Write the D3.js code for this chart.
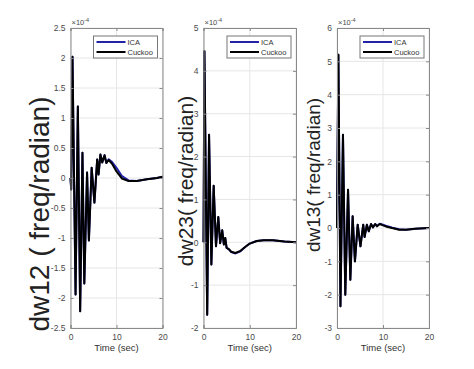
<!DOCTYPE html>
<html><head><meta charset="utf-8">
<script src="https://cdn.jsdelivr.net/npm/d3@7/dist/d3.min.js"></script>
<style>body{margin:0;background:#fff;}svg{display:block;font-family:"Liberation Sans",Arial,sans-serif;}</style>
</head><body>
<svg id="c" width="474" height="369"></svg>
<script>
// ---- data (values in units of 1e-4) ----
const seriesNames = ["ICA", "Cuckoo"];
const xTicks = [0, 10, 20];
const xLabel = "Time (sec)";

const time1 = [0, 0.15, 0.43, 1.1, 1.6, 2.1, 2.6, 3.0, 3.6, 4.0, 4.6, 5.2, 5.8, 6.1, 6.5, 6.9, 7.4, 7.8, 8.3, 9, 10, 11.2, 12.6, 14.4, 16.6, 18.8, 20];
const cuckoo1 = [0, -0.19, 2.02, -1.94, 1.19, -2.22, 0.42, -1.76, 0.09, -1.04, 0.17, -0.41, 0.31, 0.06, 0.39, 0.26, 0.38, 0.25, 0.3, 0.24, 0.11, -0.01, -0.05, -0.05, -0.02, 0.0, 0.02];
const ica1 = [0, -0.19, 2.02, -1.94, 1.19, -2.22, 0.42, -1.76, 0.09, -1.04, 0.17, -0.41, 0.31, 0.06, 0.39, 0.26, 0.38, 0.25, 0.31, 0.27, 0.17, 0.03, -0.04, -0.05, -0.02, 0.0, 0.02];
const yTicks1 = [-2.5, -2, -1.5, -1, -0.5, 0, 0.5, 1, 1.5, 2, 2.5];
const yLabel1 = "dw12 ( freq/radian)";

const time2 = [0, 0.2, 0.8, 1.2, 1.7, 2.2, 2.7, 3.2, 3.6, 4.05, 4.4, 4.7, 5.0, 5.5, 6.0, 6.9, 8, 9, 10, 11.5, 13, 15, 17.5, 20];
const cuckoo2 = [0, 4.46, -1.69, 2.51, -0.52, 1.32, -0.09, 0.59, -0.02, 0.28, -0.05, 0.1, -0.13, -0.16, -0.22, -0.25, -0.2, -0.11, -0.03, 0.03, 0.05, 0.05, 0.02, 0.0];
const ica2 = [0, 4.46, -1.69, 2.51, -0.52, 1.32, -0.09, 0.59, -0.02, 0.28, -0.05, 0.1, -0.13, -0.17, -0.23, -0.26, -0.21, -0.11, -0.03, 0.03, 0.05, 0.05, 0.02, 0.0];
const yTicks2 = [-2, -1, 0, 1, 2, 3, 4, 5];
const yLabel2 = "dw23( freq/radian)";

const time3 = [0, 0.3, 0.75, 1.3, 1.8, 2.4, 2.9, 3.4, 3.9, 4.5, 5.1, 5.7, 6.0, 6.5, 6.9, 7.4, 7.8, 8.3, 8.7, 9.3, 10, 11, 12, 13.5, 15, 17, 20];
const cuckoo3 = [0, 5.2, -2.35, 2.8, -2.0, 1.15, -1.55, 0.35, -1.0, 0.1, -0.55, 0.1, -0.27, 0.1, -0.1, 0.12, 0.02, 0.12, 0.05, 0.12, 0.08, 0.03, 0.0, -0.05, -0.05, -0.02, 0.0];
const ica3 = [0, 5.2, -2.35, 2.8, -2.0, 1.15, -1.55, 0.35, -1.0, 0.1, -0.55, 0.1, -0.27, 0.1, -0.1, 0.12, 0.02, 0.12, 0.06, 0.13, 0.1, 0.05, 0.01, -0.04, -0.05, -0.02, 0.0];
const yTicks3 = [-3, -2, -1, 0, 1, 2, 3, 4, 5, 6];
const yLabel3 = "dw13( freq/radian)";

// ---- layout ----
const panels = [
  {time: time1, ica: ica1, cuckoo: cuckoo1, yTicks: yTicks1, yLabel: yLabel1,
   left: 70.5, right: 162.5, top: 28, bottom: 328, labX: 48.5, labY: 214, labSize: 28},
  {time: time2, ica: ica2, cuckoo: cuckoo2, yTicks: yTicks2, yLabel: yLabel2,
   left: 203.5, right: 296, top: 28, bottom: 328, labX: 193, labY: 181, labSize: 21},
  {time: time3, ica: ica3, cuckoo: cuckoo3, yTicks: yTicks3, yLabel: yLabel3,
   left: 337, right: 429, top: 28, bottom: 328, labX: 320, labY: 175, labSize: 19}
];

const svg = d3.select("#c");
const colors = {ICA: "#2323a8", Cuckoo: "#000000"};
const axisColor = "#8a8a8a";
const textColor = "#4a4a4a";

panels.forEach(p => {
  const x = d3.scaleLinear().domain([0, 20]).range([p.left, p.right]);
  const yd = d3.extent(p.yTicks);
  const y = d3.scaleLinear().domain(yd).range([p.bottom, p.top]);
  const g = svg.append("g");

  // grid
  g.selectAll(".gy").data(p.yTicks).join("line")
    .attr("x1", p.left).attr("x2", p.right)
    .attr("y1", d => y(d)).attr("y2", d => y(d))
    .attr("stroke", "#e6e6e6").attr("stroke-width", 1);
  g.selectAll(".gx").data(xTicks).join("line")
    .attr("y1", p.top).attr("y2", p.bottom)
    .attr("x1", d => x(d)).attr("x2", d => x(d))
    .attr("stroke", "#e6e6e6").attr("stroke-width", 1);

  // lines
  const line = d3.line().x((d, i) => x(p.time[i])).y(d => y(d));
  g.append("path").datum(p.ica).attr("d", line)
    .attr("fill", "none").attr("stroke", colors.ICA).attr("stroke-width", 2).attr("stroke-linejoin", "round");
  g.append("path").datum(p.cuckoo).attr("d", line)
    .attr("fill", "none").attr("stroke", colors.Cuckoo).attr("stroke-width", 2).attr("stroke-linejoin", "round");

  // axes
  const ax = d3.axisBottom(x).tickValues(xTicks).tickSize(-3).tickPadding(6).tickFormat(d3.format("d"));
  const gx = g.append("g").attr("transform", `translate(0,${p.bottom})`).call(ax);
  const ay = d3.axisLeft(y).tickValues(p.yTicks).tickSize(-3).tickPadding(5).tickFormat(d => String(d));
  const gy = g.append("g").attr("transform", `translate(${p.left},0)`).call(ay);
  const ax2 = d3.axisTop(x).tickValues(xTicks).tickSize(-3).tickFormat("");
  const gx2 = g.append("g").attr("transform", `translate(0,${p.top})`).call(ax2);
  const ay2 = d3.axisRight(y).tickValues(p.yTicks).tickSize(-3).tickFormat("");
  const gy2 = g.append("g").attr("transform", `translate(${p.right},0)`).call(ay2);
  [gx, gy, gx2, gy2].forEach(a => {
    a.select(".domain").attr("stroke", axisColor);
    a.selectAll(".tick line").attr("stroke", axisColor);
    a.selectAll(".tick text").attr("fill", textColor).attr("font-size", 8.5)
      .attr("font-family", "Liberation Sans, Arial, sans-serif");
  });

  // exponent
  const ex = g.append("text").attr("x", p.left + 1).attr("y", p.top - 3)
    .attr("font-size", 7.5).attr("fill", textColor);
  ex.append("tspan").text("\u00d710");
  ex.append("tspan").attr("dy", -3).attr("font-size", 5.5).text("-4");

  // x label
  g.append("text").attr("x", (p.left + p.right) / 2).attr("y", 351)
    .attr("text-anchor", "middle").attr("font-size", 9.5).attr("fill", "#333").text(xLabel);

  // y label
  g.append("text").attr("transform", `translate(${p.labX},${p.labY}) rotate(-90)`)
    .attr("text-anchor", "middle").attr("font-size", p.labSize).attr("fill", "#222").text(p.yLabel);

  // legend
  const lw = 64, lh = 22, lr = p.right - 5, lt = 36;
  const lg = g.append("g");
  lg.append("rect").attr("x", lr - lw).attr("y", lt).attr("width", lw).attr("height", lh)
    .attr("fill", "#fff").attr("stroke", "#777").attr("stroke-width", 1);
  seriesNames.forEach((s, i) => {
    const yy = lt + 6 + i * 10;
    lg.append("line").attr("x1", lr - lw + 3).attr("x2", lr - lw + 32)
      .attr("y1", yy).attr("y2", yy).attr("stroke", colors[s]).attr("stroke-width", 2);
    lg.append("text").attr("x", lr - lw + 34).attr("y", yy + 2.5)
      .attr("font-size", 7.5).attr("fill", "#333").text(s);
  });
});
</script>
</body></html>
